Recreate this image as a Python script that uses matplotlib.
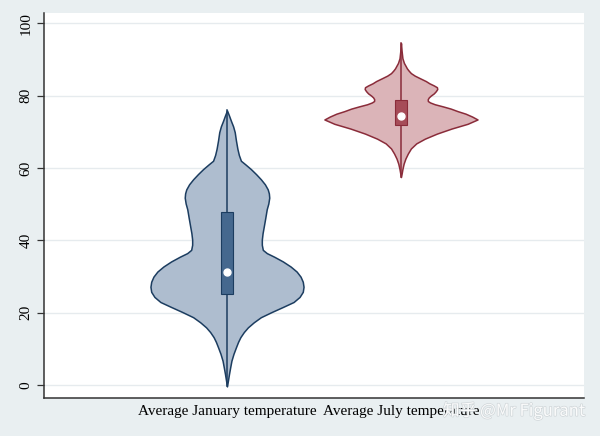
import numpy as np
import matplotlib.pyplot as plt
import matplotlib.patheffects as pe

# categories
labels = ["Average January temperature", "Average July temperature"]

# violin outlines: temperature and relative density (max = 1)
jan_y = [-0.3, 1.4, 3.1, 5.0, 6.8, 8.7, 10.5, 12.0, 13.3, 14.7, 16.0, 17.4, 18.8, 20.2, 21.6, 23.0,
         24.4, 25.8, 27.2, 28.6, 30.0, 31.4, 32.8, 34.2, 35.5, 36.5, 37.4, 38.8, 40.2, 42.0, 43.9,
         46.2, 48.6, 50.2, 51.8, 53.0, 54.1, 55.5, 56.9, 58.3, 59.7, 61.0, 62.0, 63.6, 65.3, 67.6,
         69.9, 71.5, 73.0, 74.5, 75.9]
jan_d = [0.0, 0.013, 0.026, 0.042, 0.058, 0.085, 0.117, 0.145, 0.175, 0.22, 0.273, 0.35, 0.442,
         0.58, 0.727, 0.87, 0.948, 0.99, 1.0, 0.99, 0.961, 0.91, 0.831, 0.73, 0.617, 0.52, 0.468,
         0.455, 0.455, 0.465, 0.481, 0.50, 0.519, 0.54, 0.552, 0.547, 0.532, 0.495, 0.442, 0.38,
         0.312, 0.24, 0.182, 0.155, 0.136, 0.117, 0.101, 0.08, 0.052, 0.026, 0.0]

jul_y = [57.5, 58.6, 59.7, 61.2, 62.6, 64.0, 65.4, 66.8, 68.1, 69.5, 70.9, 72.2, 73.4, 74.2, 75.0,
         75.7, 76.4, 77.0, 77.6, 78.1, 78.5, 79.0, 79.5, 80.0, 80.6, 81.2, 81.8, 82.3, 82.8, 83.4,
         84.0, 84.8, 85.5, 86.2, 86.9, 87.5, 88.2, 89.0, 90.3, 92.4, 94.5]
jul_d = [0.0, 0.01, 0.019, 0.035, 0.058, 0.09, 0.13, 0.2, 0.312, 0.47, 0.662, 0.87, 1.0, 0.93,
         0.844, 0.74, 0.65, 0.55, 0.442, 0.38, 0.351, 0.35, 0.364, 0.39, 0.429, 0.455, 0.474,
         0.47, 0.429, 0.37, 0.325, 0.247, 0.18, 0.13, 0.10, 0.078, 0.06, 0.039, 0.019, 0.008, 0.0]

# box summaries: q1, median, q3
jan_box = [25.3, 31.4, 47.8]
jul_box = [72.0, 74.4, 78.7]

yticks = [0, 20, 40, 60, 80, 100]

fills = ["#aebdcf", "#dbb4b8"]
edges = ["#1c3d60", "#8a2c3a"]
boxc = ["#45688e", "#a64c58"]

plt.rcParams['font.family'] = ['Liberation Serif', 'DejaVu Serif']

fig = plt.figure(figsize=(6, 4.36), dpi=100, facecolor="#e9eff1")
ax = fig.add_axes([0.0733, 0.0872, 0.90, 0.883])
ax.set_facecolor("white")

half = 0.44  # max half width in axis units
data = [(jan_y, jan_d, jan_box), (jul_y, jul_d, jul_box)]
for i, (yy, dd, bx) in enumerate(data):
    pos = i + 1
    yy = np.array(yy)
    dd = np.array(dd) * half
    ax.fill_betweenx(yy, pos - dd, pos + dd, facecolor=fills[i], edgecolor=edges[i],
                     linewidth=1.1, zorder=2)
    ax.plot([pos, pos], [yy.min(), yy.max()], color=edges[i], lw=1.1, zorder=3)
    ax.bar(pos, bx[2] - bx[0], bottom=bx[0], width=0.072, color=boxc[i],
           edgecolor=edges[i], linewidth=0.8, zorder=4)
    ax.plot(pos, bx[1], 'o', ms=5, mfc="white", mec="white", zorder=5)

ax.set_xlim(-0.052, 3.052)
ax.set_ylim(-3.5, 102.8)
ax.set_yticks(yticks)
ax.set_yticklabels([str(t) for t in yticks], rotation=90, va="center", fontsize=11)
ax.set_xticks([1, 2])
ax.set_xticklabels(labels, fontsize=11)
ax.tick_params(axis="x", length=0, pad=5)
ax.tick_params(axis="y", length=5, width=0.9, color="#333333", pad=3)
ax.yaxis.grid(True, color="#e6ebee", linewidth=1)
ax.set_axisbelow(True)
for s in ["top", "right"]:
    ax.spines[s].set_visible(False)
for s in ["left", "bottom"]:
    ax.spines[s].set_color("#333333")
    ax.spines[s].set_linewidth(1.1)

fig.text(0.975, 0.058, "知乎 @Mr Figurant", ha="right", va="center", fontsize=12,
         family=['Noto Sans CJK SC', 'DejaVu Sans'], color="white", alpha=0.9,
         path_effects=[pe.withStroke(linewidth=1.0, foreground="#cdd3d6")], zorder=10)

fig.savefig("out.png", dpi=100, facecolor=fig.get_facecolor())
